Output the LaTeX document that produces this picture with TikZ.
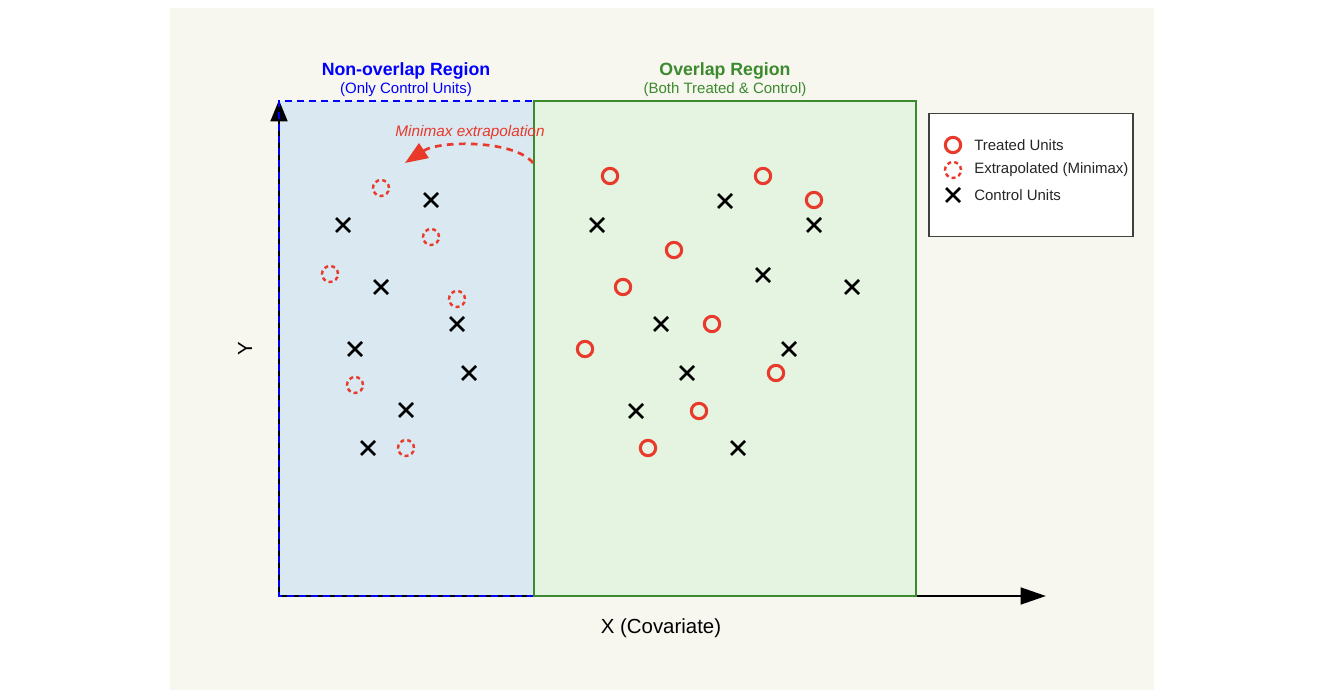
\documentclass[tikz,border=0pt]{standalone}
\usepackage{fontspec}
\setmainfont{Liberation Sans}
\usetikzlibrary{arrows.meta,shapes.misc}
\definecolor{paper}{HTML}{F7F6EF}
\definecolor{nonblue}{HTML}{D9E8F1}
\definecolor{ovgreen}{HTML}{E5F4E0}
\definecolor{darkgreen}{HTML}{3C8A2E}
\definecolor{ptred}{HTML}{E8392B}
\tikzset{
  treated/.style={circle, draw=ptred, line width=2.3pt, minimum size=11.5pt, inner sep=0pt},
  extrap/.style={circle, draw=ptred, line width=1.8pt, minimum size=12pt, inner sep=0pt, dash pattern=on 3pt off 2.4pt},
  control/.style={cross out, draw=black, line width=2pt, minimum size=8.5pt, inner sep=0pt},
  regiontitle/.style={font=\fontsize{13.3}{15}\selectfont\bfseries},
  regionsub/.style={font=\fontsize{11.25}{13}\selectfont},
  legendtext/.style={anchor=west, inner sep=0pt, text=black!85, font=\fontsize{11.25}{13}\selectfont},
}
\begin{document}
\begin{tikzpicture}[x=0.75pt, y=-0.75pt]
\fill[white] (0,0) rectangle (1324,698);
\useasboundingbox (0,0) rectangle (1324,698);
\fill[paper] (170,8) rectangle (1154,690);
% regions
\fill[nonblue] (279,101) rectangle (534,596);
\fill[ovgreen] (534,101) rectangle (916,596);
% axes
\coordinate (o) at (279,596);
\coordinate (ytop) at (279,100);
\coordinate (xend) at (1046,596);
\draw[line width=2pt, -{Triangle[length=16pt,width=12.5pt]}] (o) -- (ytop);
\draw[line width=2pt, -{Triangle[length=19pt,width=12.5pt]}] (o) -- (xend);
\draw[blue, line width=2pt, dash pattern=on 5.5pt off 3.5pt] (534,596) -- (279,596) -- (279,101) -- (534,101);
\draw[darkgreen, line width=2pt] (534,101) rectangle (916,596);
\node[regiontitle, text=blue] (nontitle) at (406,71) {Non-overlap Region};
\node[regionsub, text=blue] (nonsub) at (406,90) {(Only Control Units)};
\node[regiontitle, text=darkgreen] (ovtitle) at (725,71) {Overlap Region};
\node[regionsub, text=darkgreen] (ovsub) at (725,90) {(Both Treated \& Control)};
\node[font=\fontsize{15.3}{17}\selectfont] (xlabel) at (661,628) {X (Covariate)};
\node[font=\fontsize{15.3}{17}\selectfont, rotate=90] (ylabel) at (245,349) {Y};
% non-overlap points
\foreach \px/\py [count=\i] in {431/200, 343/225, 381/287, 457/324, 355/349, 469/373, 406/410, 368/448}
  \node[control] (cl\i) at (\px,\py) {};
\foreach \px/\py [count=\i] in {381/188, 431/237, 330/274, 457/299, 355/385, 406/448}
  \node[extrap] (ex\i) at (\px,\py) {};
% overlap points
\foreach \px/\py [count=\i] in {610/176, 763/176, 814/200, 674/250, 623/287, 712/324, 585/349, 776/373, 699/411, 648/448}
  \node[treated] (tr\i) at (\px,\py) {};
\foreach \px/\py [count=\i] in {725/201, 597/225, 814/225, 763/275, 852/287, 661/324, 789/349, 687/373, 636/411, 738/448}
  \node[control] (cr\i) at (\px,\py) {};
% minimax arrow
\coordinate (mstart) at (533,163);
\coordinate (mtip) at (405,163);
\draw[ptred, line width=2pt, dash pattern=on 5pt off 4pt, -{Triangle[length=17pt,width=13pt]}]
  (mstart) .. controls (515,140) and (440,140) .. (mtip);
\node[text=ptred, font=\fontsize{11.5}{13}\selectfont\itshape] (mlabel) at (470,133) {Minimax extrapolation};
% legend
\node[draw=black!75, fill=white, line width=1.2pt, minimum width=204*0.75pt, minimum height=123*0.75pt, inner sep=0pt] (legend) at (1031,175) {};
\node[treated] (lgtr) at (953,145) {};
\node[extrap] (lgex) at (953,170) {};
\node[control] (lgcl) at (953,195) {};
\node[legendtext] (lgtrtext) at (974,145) {Treated Units};
\node[legendtext] (lgextext) at (974,170) {Extrapolated (Minimax)};
\node[legendtext] (lgcltext) at (974,195) {Control Units};
\end{tikzpicture}
\end{document}
